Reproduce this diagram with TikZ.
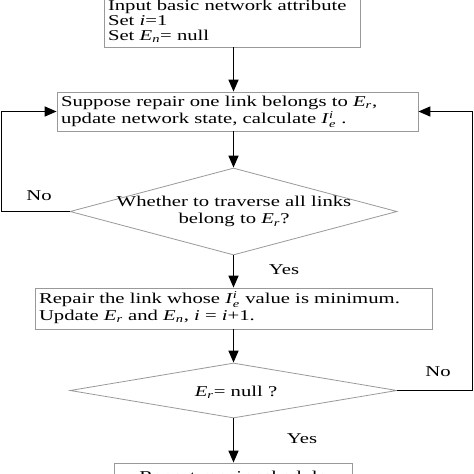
\documentclass[tikz,border=0pt]{standalone}
\usepackage{graphicx}
\usepackage{amstext}
\usepackage{fontspec}
\setmainfont{Liberation Serif}
\usetikzlibrary{arrows.meta,shapes.geometric}
\newcommand{\sxt}[1]{\scalebox{1.38}[1]{#1}}
\newcommand{\boxlines}[2]{\makebox[#1][l]{\sxt{\begin{tabular}{@{}l@{}}#2\end{tabular}}}}
\newcommand{\Er}{\textit{E}\textsubscript{\textit{r}}}
\newcommand{\En}{\textit{E}\textsubscript{\textit{n}}}
\newcommand{\Iei}{\textit{I}$^{\textit{i}}_{\textit{e}}$}
\begin{document}
\begin{tikzpicture}[x=1pt,y=-1pt,
  box/.style={draw=gray!80, line width=0.8pt, rectangle, inner xsep=4pt, inner ysep=0pt, font=\fontsize{15}{17}\selectfont},
  dia/.style={draw=gray!80, line width=0.8pt, diamond, inner sep=0pt},
  lbl/.style={font=\fontsize{15}{17}\selectfont, inner sep=0pt},
  conn/.style={line width=1.4pt, -{Triangle[length=12pt,width=10pt]}}]
\useasboundingbox (0,0) rectangle (474,474);
% boxes
\node[box, font=\fontsize{15}{15}\selectfont, minimum height=49pt] (b1) at (232,22.5)
  {\boxlines{248pt}{Input basic network attribute\\ Set \textit{i}=1\\ Set \En= null}};
\node[box, minimum height=39pt] (b2) at (237.5,111.5)
  {\boxlines{353pt}{Suppose repair one link belongs to \Er,\\ update network state, calculate \Iei\ .}};
\node[dia, minimum width=327pt, minimum height=87pt] (d1) at (233.5,211.5) {};
\node[lbl] (d1t) at (234,212)
  {\sxt{\begin{tabular}{@{}c@{}}Whether to traverse all links\\ belong to \Er?\end{tabular}}};
\node[box, minimum height=41pt] (b3) at (233.5,308.5)
  {\boxlines{389pt}{Repair the link whose \Iei\ value is minimum.\\ Update \Er\ and \En, \textit{i} = \textit{i}+1.}};
\node[dia, minimum width=327pt, minimum height=55pt] (d2) at (233.5,390.5) {};
\node[lbl] (d2t) at (236,392) {\sxt{\Er= null ?}};
\node[box, minimum height=30pt] (b4) at (233,478)
  {\makebox[230pt][c]{\sxt{Report repair schedule}}};
% labels
\node[lbl] (no1) at (39,196) {\sxt{No}};
\node[lbl] (yes1) at (284,270) {\sxt{Yes}};
\node[lbl] (no2) at (438,372) {\sxt{No}};
\node[lbl] (yes2) at (302,439) {\sxt{Yes}};
% connectors
\coordinate (lx) at (1.5,0);
\coordinate (rx) at (472.5,0);
\draw[conn] (b1.south -| d1.north) -- (d1.north |- b2.north);
\draw[conn] (b2.south -| d1.north) -- (d1.north);
\draw[conn] (d1.south) -- (d1.south |- b3.north);
\draw[conn] (b3.south -| d2.north) -- (d2.north);
\draw[conn] (d2.south) -- (d2.south |- b4.north);
\draw[conn] (d1.west) -- (d1.west -| lx) |- (b2.west);
\draw[conn] (d2.east) -- (d2.east -| rx) |- (b2.east);
\end{tikzpicture}
\end{document}
